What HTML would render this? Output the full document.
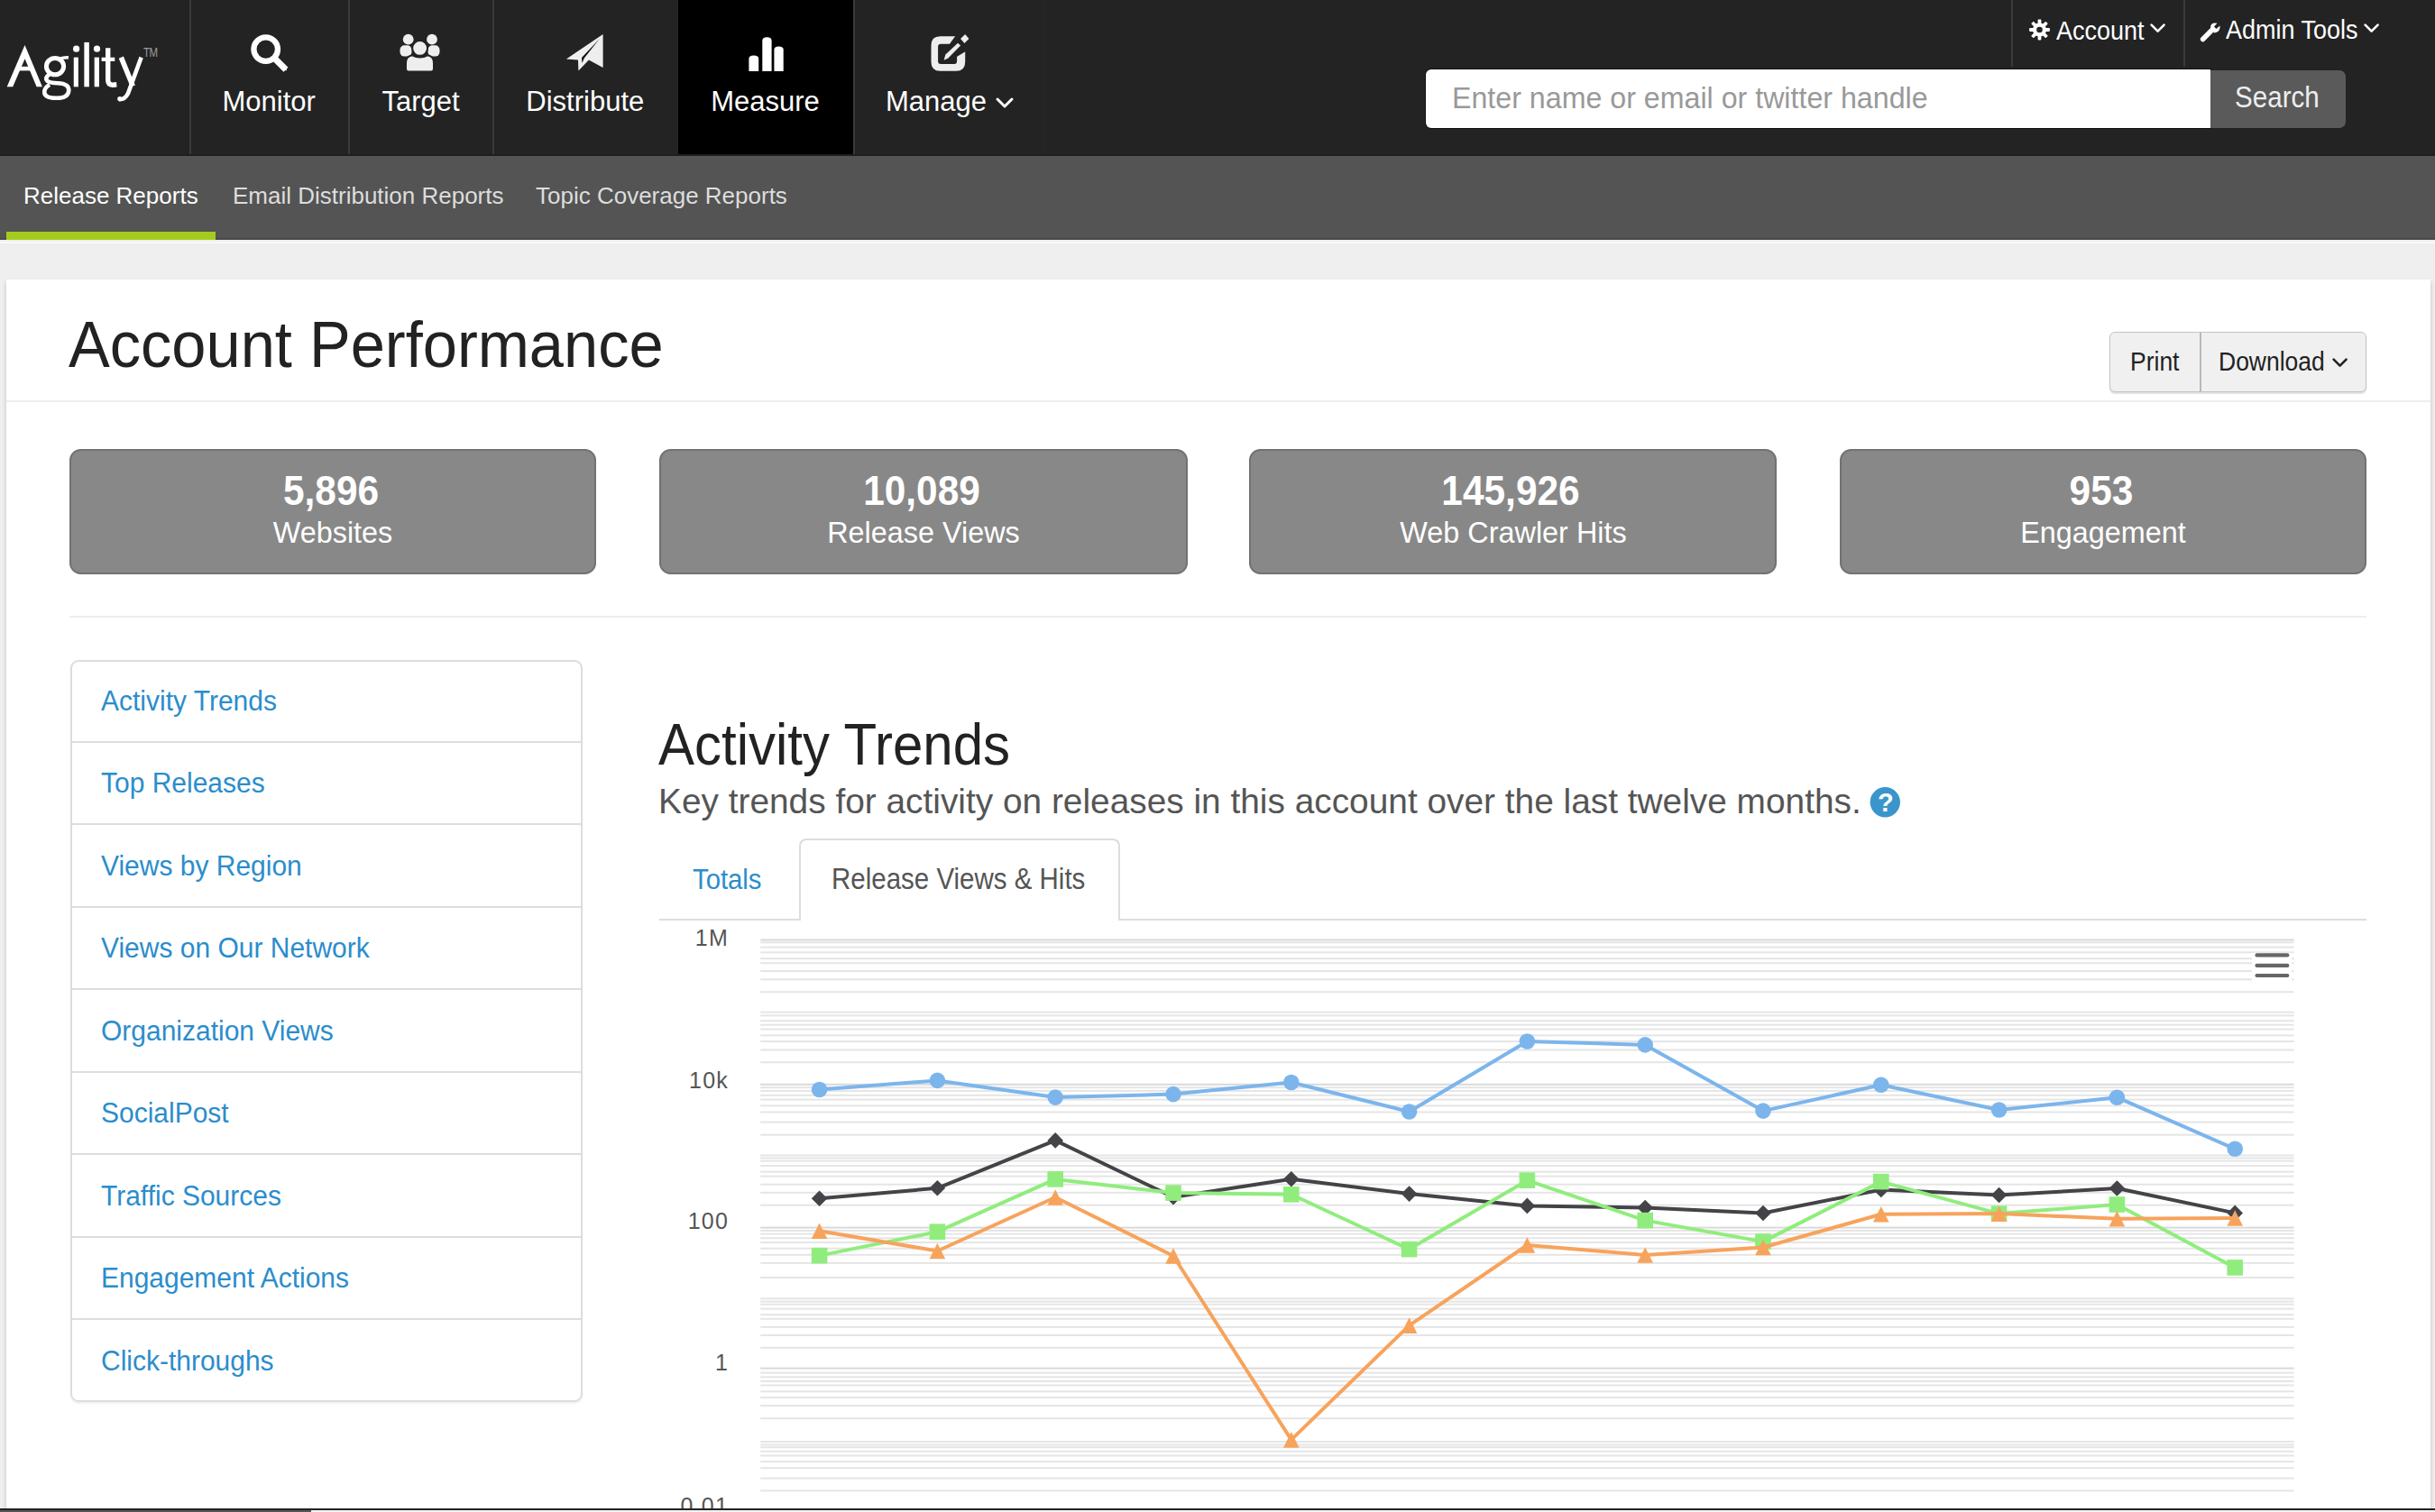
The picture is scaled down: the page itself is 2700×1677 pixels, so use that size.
<!DOCTYPE html>
<html><head><meta charset="utf-8"><style>
html,body{margin:0;padding:0;width:2700px;height:1677px;overflow:hidden;background:#efefef;font-family:'Liberation Sans', sans-serif}
.t{position:absolute;line-height:1;white-space:nowrap;font-family:'Liberation Sans', sans-serif}
</style></head><body>
<div style="position:absolute;left:0px;top:0px;width:2700px;height:173px;background:#232323"></div>
<div style="position:absolute;left:0px;top:171px;width:2700px;height:2px;background:#1e1e1e"></div>
<div style="position:absolute;left:752px;top:0px;width:194px;height:171px;background:#000"></div>
<div style="position:absolute;left:209.5px;top:0px;width:2px;height:171px;background:#3a3a3a"></div>
<div style="position:absolute;left:385.5px;top:0px;width:2px;height:171px;background:#3a3a3a"></div>
<div style="position:absolute;left:545.5px;top:0px;width:2px;height:171px;background:#3a3a3a"></div>
<div style="position:absolute;left:945.5px;top:0px;width:2px;height:171px;background:#3a3a3a"></div>
<div style="position:absolute;left:1157px;top:0px;width:2px;height:171px;background:#262626"></div>
<svg style="position:absolute;left:0;top:0" width="200" height="130"><path d="M7.7,96.3 L27.5,49.9 L46.9,96.3 L40.6,96.3 L27.6,65.3 L14.2,96.3 Z" fill="#fff"/><rect x="20" y="73.8" width="15" height="4.6" fill="#fff"/><ellipse cx="61" cy="73.6" rx="9.6" ry="9.2" fill="none" stroke="#fff" stroke-width="5"/><path d="M66.5,65.2 Q70,63.6 76,63.8" fill="none" stroke="#fff" stroke-width="3.6"/><path d="M55.5,81.8 Q48.5,86.5 53,90.2 Q56,92.2 64,92.2 Q77,92.6 76.2,100.8 Q75.6,108.8 62.5,108.8 Q49.2,108.8 49.2,102 Q49.4,97 55,94" fill="none" stroke="#fff" stroke-width="4.6"/><line x1="84.3" y1="63.6" x2="84.3" y2="96.3" stroke="#fff" stroke-width="5.1"/><circle cx="84.6" cy="54.2" r="3.6" fill="#fff"/><line x1="96.1" y1="46.9" x2="96.1" y2="96.3" stroke="#fff" stroke-width="5.5"/><line x1="107.3" y1="63.6" x2="107.3" y2="96.3" stroke="#fff" stroke-width="5.3"/><circle cx="107.5" cy="54.2" r="3.6" fill="#fff"/><path d="M119.7,53.3 L119.7,88.5 Q119.7,94.2 125,94.2 L129.3,93.8" fill="none" stroke="#fff" stroke-width="5.4"/><line x1="112.6" y1="65.8" x2="127.3" y2="65.8" stroke="#fff" stroke-width="4.2"/><line x1="134.3" y1="63.6" x2="147.3" y2="95.5" stroke="#fff" stroke-width="5.6"/><path d="M156.6,63.6 L142,103.5 Q138.6,110.6 132,110.3" fill="none" stroke="#fff" stroke-width="4.6"/><circle cx="132.8" cy="109.6" r="2.6" fill="#fff"/></svg>
<div class="t" style="left:159px;top:51.1px;font-size:14px;color:#9c9c9c;letter-spacing:-0.5px;transform:scaleX(0.82);transform-origin:0 0">TM</div>
<div class="t" style="left:-701.8px;width:2000px;text-align:center;top:96.7px;font-size:31.00px;color:#fff;font-weight:400;transform-origin:50% 0;">Monitor</div>
<div class="t" style="left:-533.5px;width:2000px;text-align:center;top:96.7px;font-size:31.00px;color:#fff;font-weight:400;transform-origin:50% 0;">Target</div>
<div class="t" style="left:-351.2px;width:2000px;text-align:center;top:96.7px;font-size:31.00px;color:#fff;font-weight:400;transform-origin:50% 0;">Distribute</div>
<div class="t" style="left:-151.5px;width:2000px;text-align:center;top:96.7px;font-size:31.00px;color:#fff;font-weight:400;transform-origin:50% 0;">Measure</div>
<div class="t" style="left:982.0px;top:96.7px;font-size:31.00px;color:#fff;font-weight:400;transform-origin:0 0;">Manage</div>
<svg style="position:absolute;left:1103px;top:106.5px" width="22" height="14"><polyline points="3,3 11.0,11 19,3" fill="none" stroke="#fff" stroke-width="3" stroke-linecap="round" stroke-linejoin="round"/></svg>
<svg style="position:absolute;left:0;top:0" width="1200" height="173" viewBox="0 0 1200 173"><circle cx="294.7" cy="54.6" r="13.3" fill="none" stroke="#fff" stroke-width="6.3"/><line x1="302.5" y1="62.7" x2="317" y2="77.2" stroke="#fff" stroke-width="7.1" stroke-linecap="butt"/><circle cx="317" cy="77.2" r="1" fill="#fff"/><circle cx="452.7" cy="43.7" r="5.9" fill="#eee"/><circle cx="479" cy="43.7" r="5.9" fill="#eee"/><rect x="443.5" y="50.2" width="13" height="12.4" rx="5" fill="#eee"/><rect x="474.5" y="50.2" width="13" height="12.4" rx="5" fill="#eee"/><circle cx="465.6" cy="53.4" r="8.4" fill="#eee" stroke="#232323" stroke-width="2"/><path d="M450,76.6 L450,70 Q450,62 457.5,61.3 Q461,63.6 465.6,63.6 Q470.2,63.6 473.8,61.3 Q481,62 481,70 L481,76.6 Q481,79.6 478,79.6 L453,79.6 Q450,79.6 450,76.6Z" fill="#eee" stroke="#232323" stroke-width="2"/><path d="M668.6,38.1 L627.9,65.5 L641,66.5 L641.4,78.6 L652.9,66.5 L668.6,75 Z" fill="#eee"/><path d="M664.8,43.1 L645,64.1 L645.4,70 L647.8,64.5 Z" fill="#111"/><path d="M830.4,79 L830.4,65 Q830.4,61.4 835.8,61.4 Q841.2,61.4 841.2,65 L841.2,79Z" fill="#fff"/><path d="M845.3,79 L845.3,45 Q845.3,41.2 850.4,41.2 Q855.6,41.2 855.6,45 L855.6,79Z" fill="#fff"/><path d="M858.4,79 L858.4,55 Q858.4,51.5 863.5,51.5 Q868.7,51.5 868.7,55 L868.7,79Z" fill="#fff"/><defs><clipPath id="ec"><path clip-rule="evenodd" d="M1020,30 H1085 V90 H1020 Z M1061.4,37 L1080,37 L1080,51.5 L1060,63.6 L1052.1,50 Z"/></clipPath></defs><path clip-path="url(#ec)" fill-rule="evenodd" fill="#eee" d="M1042.5,40.3 H1060.2 Q1070.2,40.3 1070.2,50.3 V68.8 Q1070.2,78.8 1060.2,78.8 H1042.5 Q1032.5,78.8 1032.5,68.8 V50.3 Q1032.5,40.3 1042.5,40.3 Z M1043.1,48.7 Q1040.1,48.7 1040.1,51.7 V67.9 Q1040.1,70.9 1043.1,70.9 H1058.1 Q1061.1,70.9 1061.1,67.9 V51.7 Q1061.1,48.7 1058.1,48.7 Z"/><path d="M1046.6,66.7 L1048.4,60.6 L1062.1,47.7 L1065.1,50.6 L1051.4,64.5 Z" fill="#eee"/><path d="M1065.1,43.1 L1070.2,38.1 L1074.4,43.1 L1069.4,47.9 Z" fill="#eee"/></svg>
<div style="position:absolute;left:2230px;top:0px;width:2px;height:74px;background:#3a3a3a"></div>
<div style="position:absolute;left:2421px;top:0px;width:2px;height:74px;background:#3a3a3a"></div>
<div class="t" style="left:2279.5px;top:19.7px;font-size:28.62px;color:#fff;font-weight:400;transform:scaleX(0.9434);transform-origin:0 0;">Account</div>
<svg style="position:absolute;left:2383.4px;top:25.4px" width="19.2" height="12.2"><polyline points="2.6,2.6 9.6,9.6 16.6,2.6" fill="none" stroke="#fff" stroke-width="2.6" stroke-linecap="round" stroke-linejoin="round"/></svg>
<div class="t" style="left:2468.0px;top:19.2px;font-size:28.62px;color:#fff;font-weight:400;transform:scaleX(0.9434);transform-origin:0 0;">Admin Tools</div>
<svg style="position:absolute;left:2620.4px;top:24.9px" width="19.2" height="12.2"><polyline points="2.6,2.6 9.6,9.6 16.6,2.6" fill="none" stroke="#fff" stroke-width="2.6" stroke-linecap="round" stroke-linejoin="round"/></svg>
<svg style="position:absolute;left:0;top:0" width="2700" height="80"><rect x="2259.6" y="21.6" width="3.8" height="6" rx="0.8" fill="#fff" transform="rotate(0 2261.5 33)"/><rect x="2259.6" y="21.6" width="3.8" height="6" rx="0.8" fill="#fff" transform="rotate(45 2261.5 33)"/><rect x="2259.6" y="21.6" width="3.8" height="6" rx="0.8" fill="#fff" transform="rotate(90 2261.5 33)"/><rect x="2259.6" y="21.6" width="3.8" height="6" rx="0.8" fill="#fff" transform="rotate(135 2261.5 33)"/><rect x="2259.6" y="21.6" width="3.8" height="6" rx="0.8" fill="#fff" transform="rotate(180 2261.5 33)"/><rect x="2259.6" y="21.6" width="3.8" height="6" rx="0.8" fill="#fff" transform="rotate(225 2261.5 33)"/><rect x="2259.6" y="21.6" width="3.8" height="6" rx="0.8" fill="#fff" transform="rotate(270 2261.5 33)"/><rect x="2259.6" y="21.6" width="3.8" height="6" rx="0.8" fill="#fff" transform="rotate(315 2261.5 33)"/><circle cx="2261.5" cy="33" r="7.6" fill="#fff"/><circle cx="2261.5" cy="33" r="3.3" fill="#232323"/><path d="M2442.6,43.5 L2452,34" stroke="#fff" stroke-width="5.5" stroke-linecap="round"/><path d="M2452,34 Q2449,27 2455,25.5 L2458.5,25.8 L2455,29.5 L2457.5,32 L2461.5,28.5 Q2462.5,35 2455.5,36.5 Z" fill="#fff"/></svg>
<div style="position:absolute;left:1580.5px;top:76.8px;width:870px;height:65px;background:#fff;border-radius:6px 0 0 6px;box-shadow:0 0 0 1px #111"></div>
<div class="t" style="left:1609.6px;top:92.1px;font-size:33.63px;color:#999;font-weight:400;transform:scaleX(0.9569);transform-origin:0 0;">Enter name or email or twitter handle</div>
<div style="position:absolute;left:2450.5px;top:77.5px;width:150px;height:64.2px;background:#5a5a5a;border-radius:0 7px 7px 0"></div>
<div class="t" style="left:2478.0px;top:91.9px;font-size:32.56px;color:#eee;font-weight:400;transform:scaleX(0.9091);transform-origin:0 0;">Search</div>
<div style="position:absolute;left:0px;top:173px;width:2700px;height:93px;background:#545454"></div>
<div style="position:absolute;left:0px;top:264px;width:2700px;height:2.2px;background:#4a4a4a"></div>
<div class="t" style="left:25.9px;top:203.5px;font-size:26.52px;color:#fff;font-weight:400;transform:scaleX(0.9804);transform-origin:0 0;">Release Reports</div>
<div class="t" style="left:258.0px;top:203.5px;font-size:26.52px;color:#ddd;font-weight:400;transform:scaleX(0.9804);transform-origin:0 0;">Email Distribution Reports</div>
<div class="t" style="left:594.0px;top:203.5px;font-size:26.52px;color:#ddd;font-weight:400;transform:scaleX(0.9804);transform-origin:0 0;">Topic Coverage Reports</div>
<div style="position:absolute;left:7.4px;top:256.6px;width:231.6px;height:10.1px;background:#a4cc1e"></div>
<div style="position:absolute;left:0px;top:266px;width:2700px;height:1411px;background:#efefef"></div>
<div style="position:absolute;left:0px;top:267.6px;width:2700px;height:2.8px;background:#f9f9f9"></div>
<div style="position:absolute;left:7.4px;top:310.3px;width:2687.3px;height:1400px;background:#fff;box-shadow:0 3px 5px rgba(0,0,0,0.2)"></div>
<div class="t" style="left:76.2px;top:345.8px;font-size:72.44px;color:#222;font-weight:400;transform:scaleX(0.9470);transform-origin:0 0;">Account Performance</div>
<div style="position:absolute;left:2339px;top:368px;width:285px;height:67px;background:#f0f0f0;border:1px solid #c4c4c4;border-radius:6px;box-sizing:border-box;box-shadow:0 2px 1px rgba(0,0,0,0.12)"></div>
<div style="position:absolute;left:2439px;top:369px;width:2px;height:65px;background:#b8b8b8"></div>
<div class="t" style="left:2362.0px;top:387.2px;font-size:29.15px;color:#222;font-weight:400;transform:scaleX(0.9091);transform-origin:0 0;">Print</div>
<div class="t" style="left:2459.6px;top:387.2px;font-size:29.15px;color:#222;font-weight:400;transform:scaleX(0.9091);transform-origin:0 0;">Download</div>
<svg style="position:absolute;left:2585.4px;top:395.9px" width="19.2" height="12.2"><polyline points="2.6,2.6 9.6,9.6 16.6,2.6" fill="none" stroke="#222" stroke-width="2.6" stroke-linecap="round" stroke-linejoin="round"/></svg>
<div style="position:absolute;left:7px;top:444px;width:2688px;height:2px;background:#eee"></div>
<div style="position:absolute;left:77px;top:498px;width:584px;height:139px;background:#888;border:2px solid #727272;border-radius:12.5px;box-sizing:border-box"></div>
<div class="t" style="left:-633.5px;width:2000px;text-align:center;top:521.5px;font-size:45.33px;color:#fff;font-weight:700;transform:scaleX(0.9355);transform-origin:50% 0;">5,896</div>
<div class="t" style="left:-631.0px;width:2000px;text-align:center;top:573.9px;font-size:33.53px;color:#fff;font-weight:400;transform:scaleX(0.9662);transform-origin:50% 0;">Websites</div>
<div style="position:absolute;left:731px;top:498px;width:586px;height:139px;background:#888;border:2px solid #727272;border-radius:12.5px;box-sizing:border-box"></div>
<div class="t" style="left:21.5px;width:2000px;text-align:center;top:521.5px;font-size:45.33px;color:#fff;font-weight:700;transform:scaleX(0.9355);transform-origin:50% 0;">10,089</div>
<div class="t" style="left:24.0px;width:2000px;text-align:center;top:573.9px;font-size:33.53px;color:#fff;font-weight:400;transform:scaleX(0.9662);transform-origin:50% 0;">Release Views</div>
<div style="position:absolute;left:1385px;top:498px;width:585px;height:139px;background:#888;border:2px solid #727272;border-radius:12.5px;box-sizing:border-box"></div>
<div class="t" style="left:675.0px;width:2000px;text-align:center;top:521.5px;font-size:45.33px;color:#fff;font-weight:700;transform:scaleX(0.9355);transform-origin:50% 0;">145,926</div>
<div class="t" style="left:677.5px;width:2000px;text-align:center;top:573.9px;font-size:33.53px;color:#fff;font-weight:400;transform:scaleX(0.9662);transform-origin:50% 0;">Web Crawler Hits</div>
<div style="position:absolute;left:2040px;top:498px;width:584px;height:139px;background:#888;border:2px solid #727272;border-radius:12.5px;box-sizing:border-box"></div>
<div class="t" style="left:1329.5px;width:2000px;text-align:center;top:521.5px;font-size:45.33px;color:#fff;font-weight:700;transform:scaleX(0.9355);transform-origin:50% 0;">953</div>
<div class="t" style="left:1332.0px;width:2000px;text-align:center;top:573.9px;font-size:33.53px;color:#fff;font-weight:400;transform:scaleX(0.9662);transform-origin:50% 0;">Engagement</div>
<div style="position:absolute;left:77px;top:683px;width:2547px;height:2px;background:#eee"></div>
<div style="position:absolute;left:77.5px;top:731.5px;width:568.5px;height:823.5px;border:2px solid #ddd;border-radius:9px;box-sizing:border-box;box-shadow:0 2px 2px rgba(0,0,0,0.06)"></div>
<div class="t" style="left:111.8px;top:760.7px;font-size:32.10px;color:#2b8dcc;font-weight:400;transform:scaleX(0.9346);transform-origin:0 0;">Activity Trends</div>
<div style="position:absolute;left:79.5px;top:822px;width:564.5px;height:2px;background:#ddd"></div>
<div class="t" style="left:111.8px;top:852.2px;font-size:32.10px;color:#2b8dcc;font-weight:400;transform:scaleX(0.9346);transform-origin:0 0;">Top Releases</div>
<div style="position:absolute;left:79.5px;top:913px;width:564.5px;height:2px;background:#ddd"></div>
<div class="t" style="left:111.8px;top:943.7px;font-size:32.10px;color:#2b8dcc;font-weight:400;transform:scaleX(0.9346);transform-origin:0 0;">Views by Region</div>
<div style="position:absolute;left:79.5px;top:1005px;width:564.5px;height:2px;background:#ddd"></div>
<div class="t" style="left:111.8px;top:1035.2px;font-size:32.10px;color:#2b8dcc;font-weight:400;transform:scaleX(0.9346);transform-origin:0 0;">Views on Our Network</div>
<div style="position:absolute;left:79.5px;top:1096px;width:564.5px;height:2px;background:#ddd"></div>
<div class="t" style="left:111.8px;top:1126.7px;font-size:32.10px;color:#2b8dcc;font-weight:400;transform:scaleX(0.9346);transform-origin:0 0;">Organization Views</div>
<div style="position:absolute;left:79.5px;top:1188px;width:564.5px;height:2px;background:#ddd"></div>
<div class="t" style="left:111.8px;top:1218.2px;font-size:32.10px;color:#2b8dcc;font-weight:400;transform:scaleX(0.9346);transform-origin:0 0;">SocialPost</div>
<div style="position:absolute;left:79.5px;top:1279px;width:564.5px;height:2px;background:#ddd"></div>
<div class="t" style="left:111.8px;top:1309.6px;font-size:32.10px;color:#2b8dcc;font-weight:400;transform:scaleX(0.9346);transform-origin:0 0;">Traffic Sources</div>
<div style="position:absolute;left:79.5px;top:1371px;width:564.5px;height:2px;background:#ddd"></div>
<div class="t" style="left:111.8px;top:1401.1px;font-size:32.10px;color:#2b8dcc;font-weight:400;transform:scaleX(0.9346);transform-origin:0 0;">Engagement Actions</div>
<div style="position:absolute;left:79.5px;top:1462px;width:564.5px;height:2px;background:#ddd"></div>
<div class="t" style="left:111.8px;top:1492.6px;font-size:32.10px;color:#2b8dcc;font-weight:400;transform:scaleX(0.9346);transform-origin:0 0;">Click-throughs</div>
<div class="t" style="left:730.0px;top:793.7px;font-size:64.08px;color:#222;font-weight:400;transform:scaleX(0.9363);transform-origin:0 0;">Activity Trends</div>
<div class="t" style="left:730.0px;top:870.3px;font-size:38.83px;color:#555;font-weight:400;transform-origin:0 0;">Key trends for activity on releases in this account over the last twelve months.</div>
<svg style="position:absolute;left:2073px;top:873px" width="35" height="35"><circle cx="17.3" cy="16.7" r="16.7" fill="#3a95cc"/><text x="17.8" y="27.2" text-anchor="middle" font-family="Liberation Sans" font-weight="700" font-size="29" fill="#fff">?</text></svg>
<div style="position:absolute;left:731px;top:1019px;width:1893px;height:2px;background:#ddd"></div>
<div style="position:absolute;left:886px;top:930px;width:356px;height:91px;background:#fff;border:2px solid #ddd;border-bottom:none;border-radius:8px 8px 0 0;box-sizing:border-box"></div>
<div class="t" style="left:767.5px;top:958.7px;font-size:32.23px;color:#2b8dcc;font-weight:400;transform:scaleX(0.9091);transform-origin:0 0;">Totals</div>
<div class="t" style="left:922.0px;top:958.6px;font-size:32.45px;color:#555;font-weight:400;transform:scaleX(0.9091);transform-origin:0 0;">Release Views &amp; Hits</div>
<svg style="position:absolute;left:700px;top:1022px" width="1924" height="655" viewBox="700 1022 1924 655"><rect x="843.2" y="1041.50" width="1700.4" height="2" fill="#d9d9d9"/><rect x="843.2" y="1044.30" width="1700.4" height="2" fill="#e5e5e5"/><rect x="843.2" y="1049.60" width="1700.4" height="2" fill="#e5e5e5"/><rect x="843.2" y="1055.30" width="1700.4" height="2" fill="#e5e5e5"/><rect x="843.2" y="1062.20" width="1700.4" height="2" fill="#e5e5e5"/><rect x="843.2" y="1067.20" width="1700.4" height="2" fill="#e5e5e5"/><rect x="843.2" y="1076.10" width="1700.4" height="2" fill="#e5e5e5"/><rect x="843.2" y="1085.30" width="1700.4" height="2" fill="#e5e5e5"/><rect x="843.2" y="1099.20" width="1700.4" height="2" fill="#e5e5e5"/><rect x="843.2" y="1121.70" width="1700.4" height="2" fill="#e5e5e5"/><rect x="843.2" y="1125.40" width="1700.4" height="2" fill="#e5e5e5"/><rect x="843.2" y="1131.20" width="1700.4" height="2" fill="#e5e5e5"/><rect x="843.2" y="1135.70" width="1700.4" height="2" fill="#e5e5e5"/><rect x="843.2" y="1140.60" width="1700.4" height="2" fill="#e5e5e5"/><rect x="843.2" y="1147.40" width="1700.4" height="2" fill="#e5e5e5"/><rect x="843.2" y="1154.10" width="1700.4" height="2" fill="#e5e5e5"/><rect x="843.2" y="1163.50" width="1700.4" height="2" fill="#e5e5e5"/><rect x="843.2" y="1177.20" width="1700.4" height="2" fill="#e5e5e5"/><rect x="843.2" y="1201.80" width="1700.4" height="2" fill="#d9d9d9"/><rect x="843.2" y="1205.20" width="1700.4" height="2" fill="#e5e5e5"/><rect x="843.2" y="1208.90" width="1700.4" height="2" fill="#e5e5e5"/><rect x="843.2" y="1213.80" width="1700.4" height="2" fill="#e5e5e5"/><rect x="843.2" y="1218.60" width="1700.4" height="2" fill="#e5e5e5"/><rect x="843.2" y="1225.40" width="1700.4" height="2" fill="#e5e5e5"/><rect x="843.2" y="1232.50" width="1700.4" height="2" fill="#e5e5e5"/><rect x="843.2" y="1243.60" width="1700.4" height="2" fill="#e5e5e5"/><rect x="843.2" y="1257.70" width="1700.4" height="2" fill="#e5e5e5"/><rect x="843.2" y="1280.50" width="1700.4" height="2" fill="#e5e5e5"/><rect x="843.2" y="1283.50" width="1700.4" height="2" fill="#e5e5e5"/><rect x="843.2" y="1286.60" width="1700.4" height="2" fill="#e5e5e5"/><rect x="843.2" y="1292.10" width="1700.4" height="2" fill="#e5e5e5"/><rect x="843.2" y="1298.70" width="1700.4" height="2" fill="#e5e5e5"/><rect x="843.2" y="1303.60" width="1700.4" height="2" fill="#e5e5e5"/><rect x="843.2" y="1312.70" width="1700.4" height="2" fill="#e5e5e5"/><rect x="843.2" y="1321.80" width="1700.4" height="2" fill="#e5e5e5"/><rect x="843.2" y="1335.60" width="1700.4" height="2" fill="#e5e5e5"/><rect x="843.2" y="1360.60" width="1700.4" height="2" fill="#d9d9d9"/><rect x="843.2" y="1364.00" width="1700.4" height="2" fill="#e5e5e5"/><rect x="843.2" y="1367.60" width="1700.4" height="2" fill="#e5e5e5"/><rect x="843.2" y="1372.20" width="1700.4" height="2" fill="#e5e5e5"/><rect x="843.2" y="1377.00" width="1700.4" height="2" fill="#e5e5e5"/><rect x="843.2" y="1383.70" width="1700.4" height="2" fill="#e5e5e5"/><rect x="843.2" y="1390.80" width="1700.4" height="2" fill="#e5e5e5"/><rect x="843.2" y="1399.90" width="1700.4" height="2" fill="#e5e5e5"/><rect x="843.2" y="1416.00" width="1700.4" height="2" fill="#e5e5e5"/><rect x="843.2" y="1439.30" width="1700.4" height="2" fill="#e5e5e5"/><rect x="843.2" y="1442.60" width="1700.4" height="2" fill="#e5e5e5"/><rect x="843.2" y="1445.70" width="1700.4" height="2" fill="#e5e5e5"/><rect x="843.2" y="1450.70" width="1700.4" height="2" fill="#e5e5e5"/><rect x="843.2" y="1457.20" width="1700.4" height="2" fill="#e5e5e5"/><rect x="843.2" y="1461.80" width="1700.4" height="2" fill="#e5e5e5"/><rect x="843.2" y="1470.90" width="1700.4" height="2" fill="#e5e5e5"/><rect x="843.2" y="1480.00" width="1700.4" height="2" fill="#e5e5e5"/><rect x="843.2" y="1493.80" width="1700.4" height="2" fill="#e5e5e5"/><rect x="843.2" y="1516.60" width="1700.4" height="2" fill="#d9d9d9"/><rect x="843.2" y="1521.60" width="1700.4" height="2" fill="#e5e5e5"/><rect x="843.2" y="1526.30" width="1700.4" height="2" fill="#e5e5e5"/><rect x="843.2" y="1530.90" width="1700.4" height="2" fill="#e5e5e5"/><rect x="843.2" y="1535.50" width="1700.4" height="2" fill="#e5e5e5"/><rect x="843.2" y="1542.30" width="1700.4" height="2" fill="#e5e5e5"/><rect x="843.2" y="1549.10" width="1700.4" height="2" fill="#e5e5e5"/><rect x="843.2" y="1558.10" width="1700.4" height="2" fill="#e5e5e5"/><rect x="843.2" y="1572.20" width="1700.4" height="2" fill="#e5e5e5"/><rect x="843.2" y="1598.00" width="1700.4" height="2" fill="#e5e5e5"/><rect x="843.2" y="1601.40" width="1700.4" height="2" fill="#e5e5e5"/><rect x="843.2" y="1604.20" width="1700.4" height="2" fill="#e5e5e5"/><rect x="843.2" y="1608.80" width="1700.4" height="2" fill="#e5e5e5"/><rect x="843.2" y="1613.50" width="1700.4" height="2" fill="#e5e5e5"/><rect x="843.2" y="1620.20" width="1700.4" height="2" fill="#e5e5e5"/><rect x="843.2" y="1627.20" width="1700.4" height="2" fill="#e5e5e5"/><rect x="843.2" y="1638.60" width="1700.4" height="2" fill="#e5e5e5"/><rect x="843.2" y="1652.40" width="1700.4" height="2" fill="#e5e5e5"/><text x="808" y="1048.5" text-anchor="end" font-family="Liberation Sans" font-size="25" letter-spacing="1.2" fill="#555">1M</text><text x="808" y="1207" text-anchor="end" font-family="Liberation Sans" font-size="25" letter-spacing="1.2" fill="#555">10k</text><text x="808" y="1362.6" text-anchor="end" font-family="Liberation Sans" font-size="25" letter-spacing="1.2" fill="#555">100</text><text x="808" y="1520.3" text-anchor="end" font-family="Liberation Sans" font-size="25" letter-spacing="1.2" fill="#555">1</text><text x="808" y="1679" text-anchor="end" font-family="Liberation Sans" font-size="25" letter-spacing="1.2" fill="#555">0.01</text><polyline points="908.6,1208.5 1039.4,1198.4 1170.2,1217.1 1301.0,1213.6 1431.8,1200.5 1562.6,1233.0 1693.4,1155.0 1824.2,1158.9 1955.0,1232.1 2085.8,1203.3 2216.6,1231.0 2347.4,1217.2 2478.2,1274.3" fill="none" stroke="#7cb5ec" stroke-width="4" stroke-linejoin="round" stroke-linecap="round"/><circle cx="908.6" cy="1208.5" r="8.8" fill="#7cb5ec"/><circle cx="1039.4" cy="1198.4" r="8.8" fill="#7cb5ec"/><circle cx="1170.2" cy="1217.1" r="8.8" fill="#7cb5ec"/><circle cx="1301.0" cy="1213.6" r="8.8" fill="#7cb5ec"/><circle cx="1431.8" cy="1200.5" r="8.8" fill="#7cb5ec"/><circle cx="1562.6" cy="1233.0" r="8.8" fill="#7cb5ec"/><circle cx="1693.4" cy="1155.0" r="8.8" fill="#7cb5ec"/><circle cx="1824.2" cy="1158.9" r="8.8" fill="#7cb5ec"/><circle cx="1955.0" cy="1232.1" r="8.8" fill="#7cb5ec"/><circle cx="2085.8" cy="1203.3" r="8.8" fill="#7cb5ec"/><circle cx="2216.6" cy="1231.0" r="8.8" fill="#7cb5ec"/><circle cx="2347.4" cy="1217.2" r="8.8" fill="#7cb5ec"/><circle cx="2478.2" cy="1274.3" r="8.8" fill="#7cb5ec"/><polyline points="908.6,1329.3 1039.4,1317.8 1170.2,1264.9 1301.0,1327.8 1431.8,1307.7 1562.6,1324.1 1693.4,1337.4 1824.2,1339.6 1955.0,1345.5 2085.8,1319.5 2216.6,1325.5 2347.4,1318.0 2478.2,1345.4" fill="none" stroke="#434348" stroke-width="4" stroke-linejoin="round" stroke-linecap="round"/><path d="M908.6,1320.5 L917.4,1329.3 L908.6,1338.1 L899.8,1329.3Z" fill="#434348"/><path d="M1039.4,1309.0 L1048.2,1317.8 L1039.4,1326.6 L1030.6,1317.8Z" fill="#434348"/><path d="M1170.2,1256.1 L1179.0,1264.9 L1170.2,1273.7 L1161.4,1264.9Z" fill="#434348"/><path d="M1301.0,1319.0 L1309.8,1327.8 L1301.0,1336.6 L1292.2,1327.8Z" fill="#434348"/><path d="M1431.8,1298.9 L1440.6,1307.7 L1431.8,1316.5 L1423.0,1307.7Z" fill="#434348"/><path d="M1562.6,1315.3 L1571.4,1324.1 L1562.6,1332.9 L1553.8,1324.1Z" fill="#434348"/><path d="M1693.4,1328.6 L1702.2,1337.4 L1693.4,1346.2 L1684.6,1337.4Z" fill="#434348"/><path d="M1824.2,1330.8 L1833.0,1339.6 L1824.2,1348.4 L1815.4,1339.6Z" fill="#434348"/><path d="M1955.0,1336.7 L1963.8,1345.5 L1955.0,1354.3 L1946.2,1345.5Z" fill="#434348"/><path d="M2085.8,1310.7 L2094.6,1319.5 L2085.8,1328.3 L2077.0,1319.5Z" fill="#434348"/><path d="M2216.6,1316.7 L2225.4,1325.5 L2216.6,1334.3 L2207.8,1325.5Z" fill="#434348"/><path d="M2347.4,1309.2 L2356.2,1318.0 L2347.4,1326.8 L2338.6,1318.0Z" fill="#434348"/><path d="M2478.2,1336.6 L2487.0,1345.4 L2478.2,1354.2 L2469.4,1345.4Z" fill="#434348"/><polyline points="908.6,1392.6 1039.4,1366.2 1170.2,1307.9 1301.0,1323.1 1431.8,1324.8 1562.6,1385.6 1693.4,1309.2 1824.2,1353.6 1955.0,1377.1 2085.8,1310.6 2216.6,1346.1 2347.4,1336.0 2478.2,1405.9" fill="none" stroke="#90ed7d" stroke-width="4" stroke-linejoin="round" stroke-linecap="round"/><rect x="899.8" y="1383.8" width="17.6" height="17.6" fill="#90ed7d"/><rect x="1030.6" y="1357.4" width="17.6" height="17.6" fill="#90ed7d"/><rect x="1161.4" y="1299.1" width="17.6" height="17.6" fill="#90ed7d"/><rect x="1292.2" y="1314.3" width="17.6" height="17.6" fill="#90ed7d"/><rect x="1423.0" y="1316.0" width="17.6" height="17.6" fill="#90ed7d"/><rect x="1553.8" y="1376.8" width="17.6" height="17.6" fill="#90ed7d"/><rect x="1684.6" y="1300.4" width="17.6" height="17.6" fill="#90ed7d"/><rect x="1815.4" y="1344.8" width="17.6" height="17.6" fill="#90ed7d"/><rect x="1946.2" y="1368.3" width="17.6" height="17.6" fill="#90ed7d"/><rect x="2077.0" y="1301.8" width="17.6" height="17.6" fill="#90ed7d"/><rect x="2207.8" y="1337.3" width="17.6" height="17.6" fill="#90ed7d"/><rect x="2338.6" y="1327.2" width="17.6" height="17.6" fill="#90ed7d"/><rect x="2469.4" y="1397.1" width="17.6" height="17.6" fill="#90ed7d"/><polyline points="908.6,1365.3 1039.4,1387.5 1170.2,1328.0 1301.0,1393.0 1431.8,1596.9 1562.6,1470.1 1693.4,1381.0 1824.2,1392.0 1955.0,1383.5 2085.8,1346.8 2216.6,1346.1 2347.4,1351.7 2478.2,1351.0" fill="none" stroke="#f7a35c" stroke-width="4" stroke-linejoin="round" stroke-linecap="round"/><path d="M908.6,1356.5 L917.4,1374.1 L899.8,1374.1Z" fill="#f7a35c"/><path d="M1039.4,1378.7 L1048.2,1396.3 L1030.6,1396.3Z" fill="#f7a35c"/><path d="M1170.2,1319.2 L1179.0,1336.8 L1161.4,1336.8Z" fill="#f7a35c"/><path d="M1301.0,1384.2 L1309.8,1401.8 L1292.2,1401.8Z" fill="#f7a35c"/><path d="M1431.8,1588.1 L1440.6,1605.7 L1423.0,1605.7Z" fill="#f7a35c"/><path d="M1562.6,1461.3 L1571.4,1478.9 L1553.8,1478.9Z" fill="#f7a35c"/><path d="M1693.4,1372.2 L1702.2,1389.8 L1684.6,1389.8Z" fill="#f7a35c"/><path d="M1824.2,1383.2 L1833.0,1400.8 L1815.4,1400.8Z" fill="#f7a35c"/><path d="M1955.0,1374.7 L1963.8,1392.3 L1946.2,1392.3Z" fill="#f7a35c"/><path d="M2085.8,1338.0 L2094.6,1355.6 L2077.0,1355.6Z" fill="#f7a35c"/><path d="M2216.6,1337.3 L2225.4,1354.9 L2207.8,1354.9Z" fill="#f7a35c"/><path d="M2347.4,1342.9 L2356.2,1360.5 L2338.6,1360.5Z" fill="#f7a35c"/><path d="M2478.2,1342.2 L2487.0,1359.8 L2469.4,1359.8Z" fill="#f7a35c"/><rect x="2497" y="1056.8" width="44" height="31.5" fill="#fff"/><line x1="2502.5" y1="1059.4" x2="2536.3" y2="1059.4" stroke="#666" stroke-width="4.2" stroke-linecap="round"/><line x1="2502.5" y1="1070.9" x2="2536.3" y2="1070.9" stroke="#666" stroke-width="4.2" stroke-linecap="round"/><line x1="2502.5" y1="1082" x2="2536.3" y2="1082" stroke="#666" stroke-width="4.2" stroke-linecap="round"/></svg>
<div style="position:absolute;left:0px;top:1672.5px;width:2700px;height:2.5px;background:#222"></div>
<div style="position:absolute;left:0px;top:1675px;width:345px;height:2px;background:#555"></div>
<div style="position:absolute;left:345px;top:1675px;width:2355px;height:2px;background:#f2f2f2"></div>
</body></html>
